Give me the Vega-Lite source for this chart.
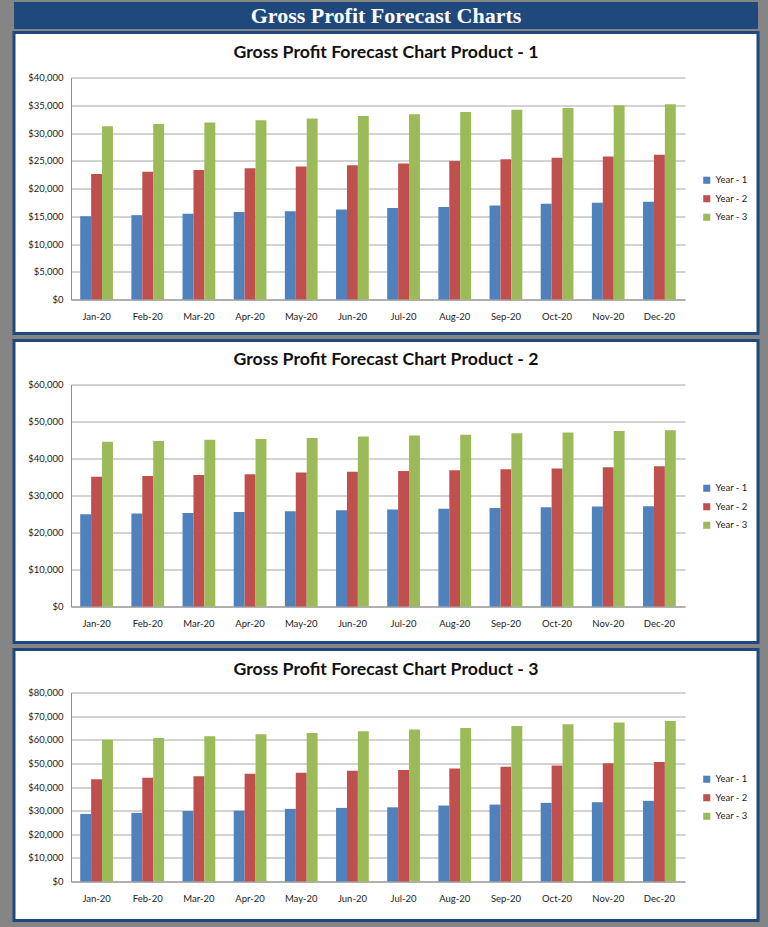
{
  "$schema": "https://vega.github.io/schema/vega-lite/v6.json",
  "background": "#858585",
  "padding": {"left": 12, "top": 2, "right": 12, "bottom": 8},
  "config": {
    "view": {"stroke": null},
    "font": "Lato",
    "bar": {"stroke": null},
    "axis": {"labelFont": "Lato", "labelFontSize": 9.5, "labelColor": "#222222", "domainColor": "#8c8c8c", "gridColor": "#a6a6a6", "title": null, "ticks": false},
    "legend": {"labelFont": "Lato", "labelFontSize": 9.5, "labelColor": "#222222"},
    "title": {"font": "Lato", "fontSize": 17.7, "fontWeight": "bold", "color": "#111111", "anchor": "middle"}
  },
  "datasets": {
    "p1": [
      {"month": "Jan-20", "series": "Year - 1", "profit": 15000}, {"month": "Jan-20", "series": "Year - 2", "profit": 22600}, {"month": "Jan-20", "series": "Year - 3", "profit": 31200},
      {"month": "Feb-20", "series": "Year - 1", "profit": 15200}, {"month": "Feb-20", "series": "Year - 2", "profit": 23000}, {"month": "Feb-20", "series": "Year - 3", "profit": 31600},
      {"month": "Mar-20", "series": "Year - 1", "profit": 15450}, {"month": "Mar-20", "series": "Year - 2", "profit": 23350}, {"month": "Mar-20", "series": "Year - 3", "profit": 31900},
      {"month": "Apr-20", "series": "Year - 1", "profit": 15750}, {"month": "Apr-20", "series": "Year - 2", "profit": 23650}, {"month": "Apr-20", "series": "Year - 3", "profit": 32300},
      {"month": "May-20", "series": "Year - 1", "profit": 15900}, {"month": "May-20", "series": "Year - 2", "profit": 23950}, {"month": "May-20", "series": "Year - 3", "profit": 32600},
      {"month": "Jun-20", "series": "Year - 1", "profit": 16200}, {"month": "Jun-20", "series": "Year - 2", "profit": 24200}, {"month": "Jun-20", "series": "Year - 3", "profit": 33050},
      {"month": "Jul-20", "series": "Year - 1", "profit": 16500}, {"month": "Jul-20", "series": "Year - 2", "profit": 24500}, {"month": "Jul-20", "series": "Year - 3", "profit": 33400},
      {"month": "Aug-20", "series": "Year - 1", "profit": 16650}, {"month": "Aug-20", "series": "Year - 2", "profit": 24950}, {"month": "Aug-20", "series": "Year - 3", "profit": 33800},
      {"month": "Sep-20", "series": "Year - 1", "profit": 16950}, {"month": "Sep-20", "series": "Year - 2", "profit": 25250}, {"month": "Sep-20", "series": "Year - 3", "profit": 34200},
      {"month": "Oct-20", "series": "Year - 1", "profit": 17250}, {"month": "Oct-20", "series": "Year - 2", "profit": 25550}, {"month": "Oct-20", "series": "Year - 3", "profit": 34500},
      {"month": "Nov-20", "series": "Year - 1", "profit": 17450}, {"month": "Nov-20", "series": "Year - 2", "profit": 25750}, {"month": "Nov-20", "series": "Year - 3", "profit": 35000},
      {"month": "Dec-20", "series": "Year - 1", "profit": 17600}, {"month": "Dec-20", "series": "Year - 2", "profit": 26100}, {"month": "Dec-20", "series": "Year - 3", "profit": 35200}
    ],
    "p2": [
      {"month": "Jan-20", "series": "Year - 1", "profit": 24900}, {"month": "Jan-20", "series": "Year - 2", "profit": 35050}, {"month": "Jan-20", "series": "Year - 3", "profit": 44500},
      {"month": "Feb-20", "series": "Year - 1", "profit": 25150}, {"month": "Feb-20", "series": "Year - 2", "profit": 35300}, {"month": "Feb-20", "series": "Year - 3", "profit": 44700},
      {"month": "Mar-20", "series": "Year - 1", "profit": 25300}, {"month": "Mar-20", "series": "Year - 2", "profit": 35550}, {"month": "Mar-20", "series": "Year - 3", "profit": 45100},
      {"month": "Apr-20", "series": "Year - 1", "profit": 25550}, {"month": "Apr-20", "series": "Year - 2", "profit": 35750}, {"month": "Apr-20", "series": "Year - 3", "profit": 45300},
      {"month": "May-20", "series": "Year - 1", "profit": 25750}, {"month": "May-20", "series": "Year - 2", "profit": 36200}, {"month": "May-20", "series": "Year - 3", "profit": 45550},
      {"month": "Jun-20", "series": "Year - 1", "profit": 26000}, {"month": "Jun-20", "series": "Year - 2", "profit": 36450}, {"month": "Jun-20", "series": "Year - 3", "profit": 45950},
      {"month": "Jul-20", "series": "Year - 1", "profit": 26200}, {"month": "Jul-20", "series": "Year - 2", "profit": 36650}, {"month": "Jul-20", "series": "Year - 3", "profit": 46200},
      {"month": "Aug-20", "series": "Year - 1", "profit": 26450}, {"month": "Aug-20", "series": "Year - 2", "profit": 36850}, {"month": "Aug-20", "series": "Year - 3", "profit": 46400},
      {"month": "Sep-20", "series": "Year - 1", "profit": 26650}, {"month": "Sep-20", "series": "Year - 2", "profit": 37100}, {"month": "Sep-20", "series": "Year - 3", "profit": 46800},
      {"month": "Oct-20", "series": "Year - 1", "profit": 26850}, {"month": "Oct-20", "series": "Year - 2", "profit": 37300}, {"month": "Oct-20", "series": "Year - 3", "profit": 47000},
      {"month": "Nov-20", "series": "Year - 1", "profit": 27050}, {"month": "Nov-20", "series": "Year - 2", "profit": 37650}, {"month": "Nov-20", "series": "Year - 3", "profit": 47400},
      {"month": "Dec-20", "series": "Year - 1", "profit": 27100}, {"month": "Dec-20", "series": "Year - 2", "profit": 37900}, {"month": "Dec-20", "series": "Year - 3", "profit": 47650}
    ],
    "p3": [
      {"month": "Jan-20", "series": "Year - 1", "profit": 28600}, {"month": "Jan-20", "series": "Year - 2", "profit": 43300}, {"month": "Jan-20", "series": "Year - 3", "profit": 60050},
      {"month": "Feb-20", "series": "Year - 1", "profit": 29050}, {"month": "Feb-20", "series": "Year - 2", "profit": 43900}, {"month": "Feb-20", "series": "Year - 3", "profit": 60700},
      {"month": "Mar-20", "series": "Year - 1", "profit": 29850}, {"month": "Mar-20", "series": "Year - 2", "profit": 44600}, {"month": "Mar-20", "series": "Year - 3", "profit": 61450},
      {"month": "Apr-20", "series": "Year - 1", "profit": 29950}, {"month": "Apr-20", "series": "Year - 2", "profit": 45600}, {"month": "Apr-20", "series": "Year - 3", "profit": 62300},
      {"month": "May-20", "series": "Year - 1", "profit": 30750}, {"month": "May-20", "series": "Year - 2", "profit": 46050}, {"month": "May-20", "series": "Year - 3", "profit": 62850},
      {"month": "Jun-20", "series": "Year - 1", "profit": 31150}, {"month": "Jun-20", "series": "Year - 2", "profit": 46850}, {"month": "Jun-20", "series": "Year - 3", "profit": 63550},
      {"month": "Jul-20", "series": "Year - 1", "profit": 31400}, {"month": "Jul-20", "series": "Year - 2", "profit": 47150}, {"month": "Jul-20", "series": "Year - 3", "profit": 64300},
      {"month": "Aug-20", "series": "Year - 1", "profit": 32150}, {"month": "Aug-20", "series": "Year - 2", "profit": 47850}, {"month": "Aug-20", "series": "Year - 3", "profit": 64950},
      {"month": "Sep-20", "series": "Year - 1", "profit": 32550}, {"month": "Sep-20", "series": "Year - 2", "profit": 48600}, {"month": "Sep-20", "series": "Year - 3", "profit": 65800},
      {"month": "Oct-20", "series": "Year - 1", "profit": 33300}, {"month": "Oct-20", "series": "Year - 2", "profit": 49150}, {"month": "Oct-20", "series": "Year - 3", "profit": 66550},
      {"month": "Nov-20", "series": "Year - 1", "profit": 33550}, {"month": "Nov-20", "series": "Year - 2", "profit": 50100}, {"month": "Nov-20", "series": "Year - 3", "profit": 67250},
      {"month": "Dec-20", "series": "Year - 1", "profit": 34150}, {"month": "Dec-20", "series": "Year - 2", "profit": 50550}, {"month": "Dec-20", "series": "Year - 3", "profit": 67950}
    ]
  },
  "spacing": 1.5,
  "vconcat": [
    {
      "width": 744,
      "height": 27,
      "view": {"fill": "#1f497d", "stroke": null},
      "data": {"values": [{"heading": "Gross Profit Forecast Charts"}]},
      "mark": {"type": "text", "font": "Liberation Serif", "fontSize": 22, "fontWeight": "bold", "color": "#ffffff"},
      "encoding": {"text": {"field": "heading"}}
    },
    {
      "spacing": 3,
      "resolve": {"scale": {"color": "independent", "x": "independent", "y": "independent"}, "legend": {"color": "independent"}},
      "vconcat": [
        {
          "width": 744,
          "height": 301,
          "view": {"fill": "#ffffff", "stroke": "#1f497d", "strokeWidth": 3},
          "title": {"text": "Gross Profit Forecast Chart Product - 1", "offset": -29.5},
          "data": {"name": "p1"},
          "mark": {"type": "bar"},
          "encoding": {
            "x": {"field": "month", "type": "nominal", "sort": null,
                  "scale": {"range": [57, 671], "paddingInner": 0.36, "paddingOuter": 0.18},
                  "axis": {"orient": "bottom", "offset": -34, "labelPadding": 12, "labelAngle": 0, "grid": false}},
            "xOffset": {"field": "series", "type": "nominal", "sort": null, "scale": {"paddingInner": 0, "paddingOuter": 0}},
            "y": {"field": "profit", "type": "quantitative",
                  "scale": {"domain": [0, 40000], "range": [267, 45], "nice": false, "zero": true},
                  "axis": {"orient": "left", "offset": -57, "values": [0, 5000, 10000, 15000, 20000, 25000, 30000, 35000, 40000], "format": "$,.0f", "labelPadding": 8, "grid": true}},
            "color": {"field": "series", "type": "nominal",
                      "scale": {"range": ["#4f81bd", "#c0504d", "#9bbb59"]},
                      "legend": {"orient": "none", "legendX": 688, "legendY": 143, "title": null, "symbolType": "square", "symbolSize": 50, "rowPadding": 7.5, "symbolStrokeWidth": 0}}
          }
        },
        {
          "width": 744,
          "height": 302,
          "view": {"fill": "#ffffff", "stroke": "#1f497d", "strokeWidth": 3},
          "title": {"text": "Gross Profit Forecast Chart Product - 2", "offset": -28.5},
          "data": {"name": "p2"},
          "mark": {"type": "bar"},
          "encoding": {
            "x": {"field": "month", "type": "nominal", "sort": null,
                  "scale": {"range": [57, 671], "paddingInner": 0.36, "paddingOuter": 0.18},
                  "axis": {"orient": "bottom", "offset": -36, "labelPadding": 12, "labelAngle": 0, "grid": false}},
            "xOffset": {"field": "series", "type": "nominal", "sort": null, "scale": {"paddingInner": 0, "paddingOuter": 0}},
            "y": {"field": "profit", "type": "quantitative",
                  "scale": {"domain": [0, 60000], "range": [266, 44], "nice": false, "zero": true},
                  "axis": {"orient": "left", "offset": -57, "values": [0, 10000, 20000, 30000, 40000, 50000, 60000], "format": "$,.0f", "labelPadding": 8, "grid": true}},
            "color": {"field": "series", "type": "nominal",
                      "scale": {"range": ["#4f81bd", "#c0504d", "#9bbb59"]},
                      "legend": {"orient": "none", "legendX": 688, "legendY": 143, "title": null, "symbolType": "square", "symbolSize": 50, "rowPadding": 7.5, "symbolStrokeWidth": 0}}
          }
        },
        {
          "width": 744,
          "height": 271,
          "view": {"fill": "#ffffff", "stroke": "#1f497d", "strokeWidth": 3},
          "title": {"text": "Gross Profit Forecast Chart Product - 3", "offset": -29},
          "data": {"name": "p3"},
          "mark": {"type": "bar"},
          "encoding": {
            "x": {"field": "month", "type": "nominal", "sort": null,
                  "scale": {"range": [57, 671], "paddingInner": 0.36, "paddingOuter": 0.18},
                  "axis": {"orient": "bottom", "offset": -39, "labelPadding": 12, "labelAngle": 0, "grid": false}},
            "xOffset": {"field": "series", "type": "nominal", "sort": null, "scale": {"paddingInner": 0, "paddingOuter": 0}},
            "y": {"field": "profit", "type": "quantitative",
                  "scale": {"domain": [0, 80000], "range": [232, 43], "nice": false, "zero": true},
                  "axis": {"orient": "left", "offset": -57, "values": [0, 10000, 20000, 30000, 40000, 50000, 60000, 70000, 80000], "format": "$,.0f", "labelPadding": 8, "grid": true}},
            "color": {"field": "series", "type": "nominal",
                      "scale": {"range": ["#4f81bd", "#c0504d", "#9bbb59"]},
                      "legend": {"orient": "none", "legendX": 688, "legendY": 125, "title": null, "symbolType": "square", "symbolSize": 50, "rowPadding": 7.5, "symbolStrokeWidth": 0}}
          }
        }
      ]
    }
  ]
}
